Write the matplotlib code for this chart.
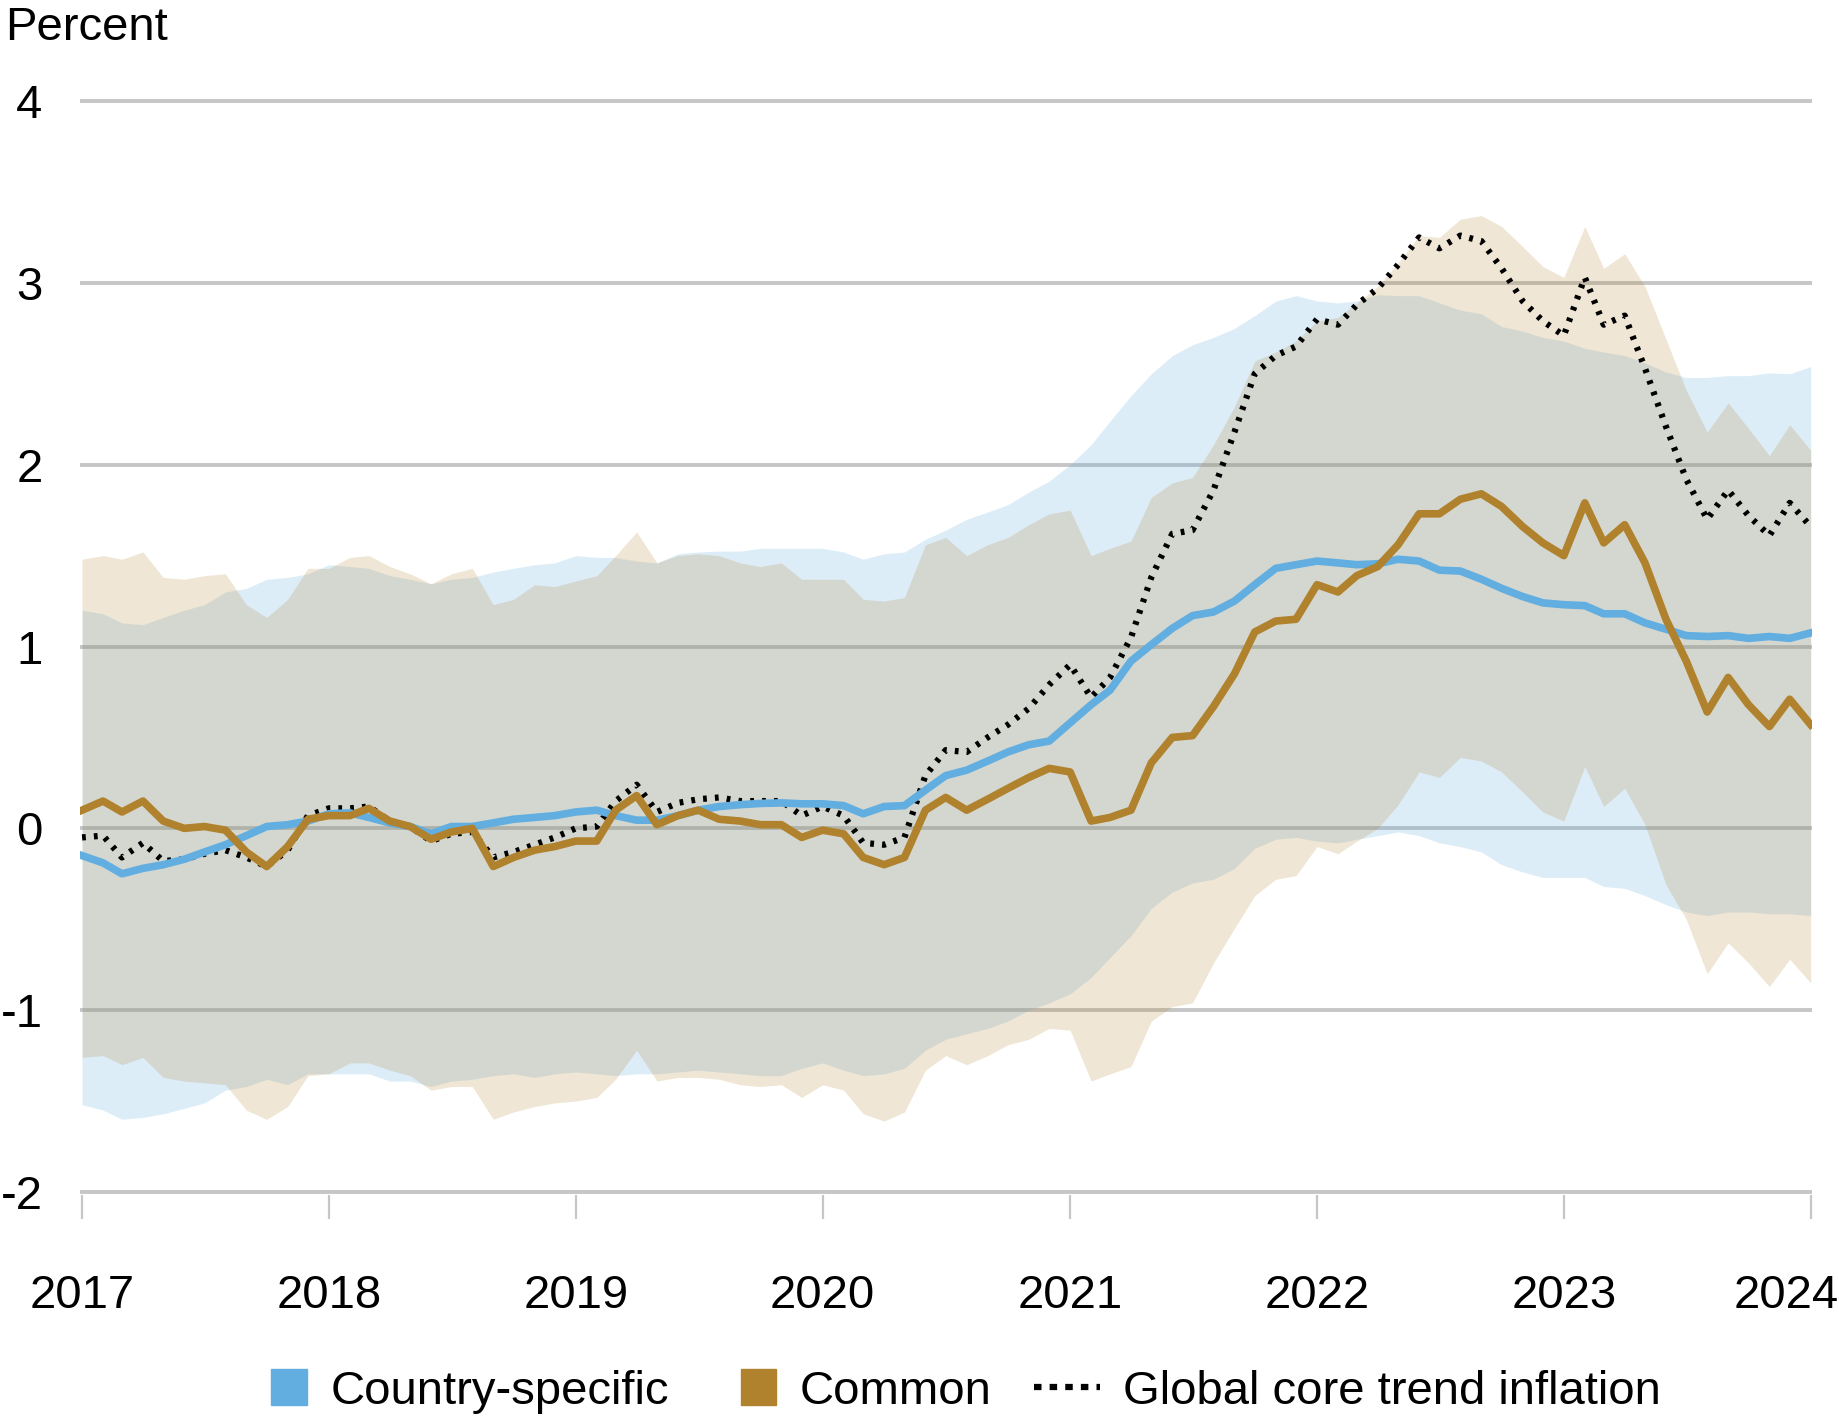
import numpy as np
import pandas as pd
import matplotlib
matplotlib.use("Agg")
import matplotlib.pyplot as plt
import matplotlib.patches as mpatches
from matplotlib.lines import Line2D
from matplotlib.legend_handler import HandlerPatch
from matplotlib.transforms import ScaledTranslation

plt.rcParams["font.family"] = ["Liberation Sans", "DejaVu Sans"]

# monthly, Jan 2017 .. Jan 2024
months = pd.date_range("2017-01-01", periods=85, freq="MS")
year_ticks = pd.date_range("2017-01-01", periods=8, freq="YS")
year_labels = ["2017", "2018", "2019", "2020", "2021", "2022", "2023", "2024"]

country = [
    -0.15, -0.19, -0.25, -0.22, -0.20, -0.17, -0.13, -0.09, -0.04, 0.01, 0.02, 0.04,
    0.08, 0.085, 0.06, 0.03, 0.01, -0.03, 0.01, 0.01, 0.03, 0.05, 0.06, 0.07,
    0.09, 0.10, 0.07, 0.045, 0.045, 0.07, 0.10, 0.12, 0.13, 0.137, 0.14, 0.135,
    0.135, 0.125, 0.08, 0.12, 0.125, 0.21, 0.29, 0.32, 0.37, 0.42, 0.46, 0.48,
    0.58, 0.68, 0.76, 0.92, 1.01, 1.10, 1.17, 1.19, 1.25, 1.34, 1.43, 1.45,
    1.47, 1.46, 1.45, 1.455, 1.48, 1.47, 1.42, 1.415, 1.37, 1.32, 1.275, 1.24,
    1.23, 1.225, 1.18, 1.18, 1.13, 1.095, 1.06, 1.055, 1.06, 1.045, 1.055, 1.045,
    1.075,
]
common = [
    0.10, 0.15, 0.09, 0.15, 0.04, 0.00, 0.01, -0.01, -0.13, -0.21, -0.10, 0.05,
    0.07, 0.07, 0.11, 0.04, 0.01, -0.06, -0.02, 0.00, -0.21, -0.16, -0.12, -0.10,
    -0.07, -0.07, 0.10, 0.18, 0.02, 0.07, 0.10, 0.05, 0.04, 0.02, 0.02, -0.05,
    -0.01, -0.03, -0.16, -0.20, -0.16, 0.10, 0.17, 0.10, 0.16, 0.22, 0.28, 0.33,
    0.31, 0.04, 0.06, 0.10, 0.36, 0.50, 0.51, 0.67, 0.85, 1.08, 1.14, 1.15,
    1.34, 1.30, 1.39, 1.44, 1.56, 1.73, 1.73, 1.81, 1.84, 1.77, 1.66, 1.57,
    1.50, 1.79, 1.57, 1.67, 1.46, 1.15, 0.92, 0.64, 0.83, 0.68, 0.56, 0.71,
    0.57,
]
global_core = [
    -0.05, -0.04, -0.16, -0.08, -0.18, -0.17, -0.14, -0.12, -0.16, -0.21, -0.12, 0.07,
    0.11, 0.11, 0.12, 0.04, 0.01, -0.07, -0.03, -0.02, -0.16, -0.13, -0.09, -0.05,
    0.00, 0.01, 0.15, 0.24, 0.09, 0.14, 0.16, 0.17, 0.15, 0.15, 0.15, 0.07,
    0.12, 0.07, -0.08, -0.09, -0.05, 0.29, 0.43, 0.42, 0.50, 0.57, 0.66, 0.79,
    0.90, 0.72, 0.83, 1.05, 1.38, 1.62, 1.64, 1.86, 2.18, 2.50, 2.60, 2.65,
    2.80, 2.77, 2.88, 2.97, 3.10, 3.25, 3.19, 3.26, 3.23, 3.08, 2.90, 2.79,
    2.71, 3.03, 2.77, 2.82, 2.53, 2.21, 1.92, 1.70, 1.86, 1.72, 1.61, 1.79,
    1.66,
]

# uncertainty bands
country_hi = [
    1.20, 1.18, 1.13, 1.12, 1.16, 1.20, 1.23, 1.30, 1.32, 1.37, 1.38, 1.40,
    1.45, 1.44, 1.43, 1.39, 1.37, 1.345, 1.37, 1.38, 1.41, 1.43, 1.45, 1.46,
    1.50, 1.49, 1.49, 1.47, 1.46, 1.51, 1.52, 1.525, 1.525, 1.54, 1.54, 1.54,
    1.54, 1.52, 1.48, 1.51, 1.52, 1.59, 1.64, 1.70, 1.74, 1.78, 1.85, 1.91,
    2.00, 2.11, 2.24, 2.38, 2.50, 2.60, 2.66, 2.70, 2.75, 2.82, 2.90, 2.93,
    2.90, 2.89, 2.90, 2.935, 2.93, 2.93, 2.89, 2.85, 2.83, 2.76, 2.735, 2.70,
    2.68, 2.64, 2.62, 2.60, 2.56, 2.51, 2.48, 2.48, 2.49, 2.49, 2.505, 2.50,
    2.54,
]
country_lo = [
    -1.52, -1.55, -1.60, -1.59, -1.57, -1.54, -1.51, -1.44, -1.42, -1.38, -1.41, -1.35,
    -1.35, -1.35, -1.35, -1.39, -1.39, -1.42, -1.39, -1.38, -1.36, -1.35, -1.37, -1.35,
    -1.34, -1.35, -1.36, -1.35, -1.35, -1.34, -1.33, -1.34, -1.35, -1.36, -1.36, -1.32,
    -1.29, -1.33, -1.36, -1.35, -1.32, -1.22, -1.16, -1.13, -1.10, -1.06, -1.00, -0.96,
    -0.91, -0.82, -0.71, -0.59, -0.44, -0.35, -0.30, -0.28, -0.22, -0.11, -0.06, -0.05,
    -0.07, -0.08, -0.06, -0.04, -0.02, -0.04, -0.08, -0.10, -0.13, -0.20, -0.24, -0.27,
    -0.27, -0.27, -0.32, -0.33, -0.37, -0.42, -0.46, -0.48, -0.46, -0.46, -0.47, -0.47,
    -0.48,
]
common_hi = [
    1.48, 1.50, 1.48, 1.52, 1.38, 1.37, 1.39, 1.40, 1.23, 1.16, 1.26, 1.43,
    1.43, 1.49, 1.50, 1.44, 1.40, 1.345, 1.40, 1.43, 1.23, 1.26, 1.34, 1.33,
    1.36, 1.39, 1.50, 1.63, 1.46, 1.50, 1.51, 1.50, 1.46, 1.44, 1.46, 1.37,
    1.37, 1.37, 1.26, 1.25, 1.27, 1.56, 1.60, 1.50, 1.56, 1.60, 1.67, 1.73,
    1.75, 1.50, 1.54, 1.58, 1.82, 1.90, 1.93, 2.11, 2.32, 2.57, 2.62, 2.68,
    2.79, 2.81, 2.89, 2.98, 3.11, 3.26, 3.25, 3.35, 3.37, 3.31, 3.20, 3.09,
    3.03, 3.31, 3.08, 3.16, 2.98, 2.69, 2.41, 2.18, 2.34, 2.20, 2.05, 2.22,
    2.08,
]
common_lo = [
    -1.26, -1.25, -1.30, -1.26, -1.37, -1.39, -1.40, -1.41, -1.55, -1.60, -1.53, -1.36,
    -1.35, -1.29, -1.29, -1.33, -1.36, -1.44, -1.42, -1.42, -1.60, -1.56, -1.53, -1.51,
    -1.50, -1.48, -1.38, -1.22, -1.39, -1.37, -1.37, -1.38, -1.41, -1.42, -1.41, -1.48,
    -1.41, -1.44, -1.57, -1.61, -1.56, -1.33, -1.25, -1.30, -1.25, -1.19, -1.16, -1.10,
    -1.11, -1.39, -1.35, -1.31, -1.06, -0.98, -0.96, -0.74, -0.55, -0.37, -0.28, -0.26,
    -0.10, -0.14, -0.07, 0.00, 0.13, 0.31, 0.28, 0.39, 0.37, 0.31, 0.20, 0.09,
    0.04, 0.34, 0.12, 0.22, 0.02, -0.31, -0.50, -0.80, -0.63, -0.74, -0.87, -0.72,
    -0.85,
]

BLUE = "#62aee0"
BROWN = "#b0822e"
GRID = "#c6c6c6"
FS = 34

fig = plt.figure(figsize=(18.4, 14.25), dpi=100)
ax = fig.add_axes([0.0435, 0.1616, 0.9413, 0.7694])

# bands first (translucent so their overlap turns greyish), then lines
ax.fill_between(months, country_lo, country_hi, color=BLUE, alpha=0.21, lw=0, zorder=1)
ax.fill_between(months, common_lo, common_hi, color=BROWN, alpha=0.2, lw=0, zorder=2)

ax.plot(months, global_core, color="black", lw=4.5, linestyle=(0, (0.6, 1.3)),
        dash_capstyle="butt", zorder=3)
ax.plot(months, country, color=BLUE, lw=5.5, zorder=4, solid_joinstyle="round")
ax.plot(months, common, color=BROWN, lw=5.5, zorder=5, solid_joinstyle="round")

ax.set_ylim(-2.015, 4.015)
ax.set_xlim(months[0] - pd.Timedelta(days=3), months[-1] + pd.Timedelta(days=2))
ax.set_yticks(range(-2, 5))
ax.set_yticklabels([str(v) for v in range(-2, 5)])
ax.set_xticks(year_ticks)
ax.set_xticklabels(year_labels)

ax.grid(axis="y", color=GRID, lw=2.8, zorder=0)
ax.set_axisbelow(True)
for s in ax.spines.values():
    s.set_visible(False)

ax.tick_params(axis="y", length=0, pad=27, labelsize=FS)
ax.tick_params(axis="x", direction="out", length=17, width=1.6, color=GRID,
               pad=40, labelsize=FS)

# last year label is nudged left so it stays inside the frame
lab = ax.get_xticklabels()[-1]
lab.set_transform(lab.get_transform() + ScaledTranslation(-0.24, 0, fig.dpi_scale_trans))

fig.text(0.003, 0.972, "Percent", fontsize=FS, ha="left", va="baseline")


def square(legend, orig_handle, xdescent, ydescent, width, height, fontsize):
    s = 0.75 * fontsize
    return mpatches.Rectangle((-xdescent + width - s, -ydescent + (height - s) / 2), s, s)


handles = [
    mpatches.Patch(color=BLUE, label="Country-specific"),
    mpatches.Patch(color=BROWN, label="Common"),
    Line2D([], [], color="black", lw=4.5, linestyle=(0, (1.2, 1.3)),
           label="Global core trend inflation"),
]
fig.legend(handles=handles, loc="center", bbox_to_anchor=(0.517, 0.0235), ncol=3,
           frameon=False, fontsize=FS, handlelength=1.38, handletextpad=0.5,
           columnspacing=0.9, borderpad=0, borderaxespad=0,
           handler_map={mpatches.Patch: HandlerPatch(patch_func=square)})

fig.savefig("out.png", dpi=100)
